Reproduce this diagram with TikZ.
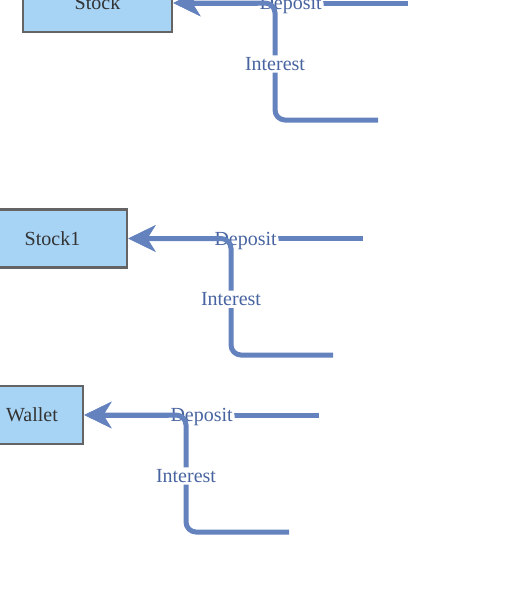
\documentclass[tikz,border=0pt]{standalone}
\usepackage{fontspec}
\setmainfont{Liberation Serif}
\usetikzlibrary{arrows.meta}
\definecolor{flowblue}{RGB}{100,130,190}
\definecolor{labelblue}{RGB}{72,100,160}
\definecolor{boxfill}{RGB}{167,211,245}
\definecolor{boxline}{RGB}{100,100,100}
\tikzset{
	account/.style={draw=boxline, fill=boxfill, line width=1.25pt, minimum width=74.5pt, minimum height=29pt, inner sep=0pt, text=black!80},
	flow/.style={draw=flowblue, line width=2.5pt, rounded corners=5pt, -{Stealth[length=13.5pt,width=13pt,inset=4pt]}},
	flowlabel/.style={fill=white, text=labelblue, inner sep=1pt, yshift=-1.2pt},
}
\begin{document}
\begin{tikzpicture}[x=0.5pt, y=-0.5pt, font=\fontsize{10}{12}\selectfont]
				\useasboundingbox (0,0) rectangle (511,600);
				\node[account] (stock) at (97.5,3) {Stock};
				\node[account] (stockone) at (52.5,238.5) {Stock1};
				\node[account] (wallet) at (8.5,415) {};
				\node[text=black!80] (walletname) at (32,415) {Wallet};
				\coordinate (stockdep) at (408,3);
				\coordinate (stockint) at (378,120);
				\coordinate (stockjoin) at (275,3);
				\coordinate (stockonedep) at (363,238.5);
				\coordinate (stockoneint) at (333,355);
				\coordinate (stockonejoin) at (231,238.5);
				\coordinate (walletdep) at (319,415);
				\coordinate (walletint) at (289,532);
				\coordinate (walletjoin) at (186,415);
				\draw[flow] (stockdep) -- node[flowlabel] {Deposit} (stock.east);
				\draw[flow] (stockonedep) -- node[flowlabel] {Deposit} (stockone.east);
				\draw[flow] (walletdep) -- node[flowlabel] {Deposit} (wallet.east);
				\draw[flow] (stockint) -| node[flowlabel, pos=0.75] {Interest} (stockjoin) -- (stock.east);
				\draw[flow] (stockoneint) -| node[flowlabel, pos=0.75] {Interest} (stockonejoin) -- (stockone.east);
				\draw[flow] (walletint) -| node[flowlabel, pos=0.75] {Interest} (walletjoin) -- (wallet.east);
\end{tikzpicture}
\end{document}
